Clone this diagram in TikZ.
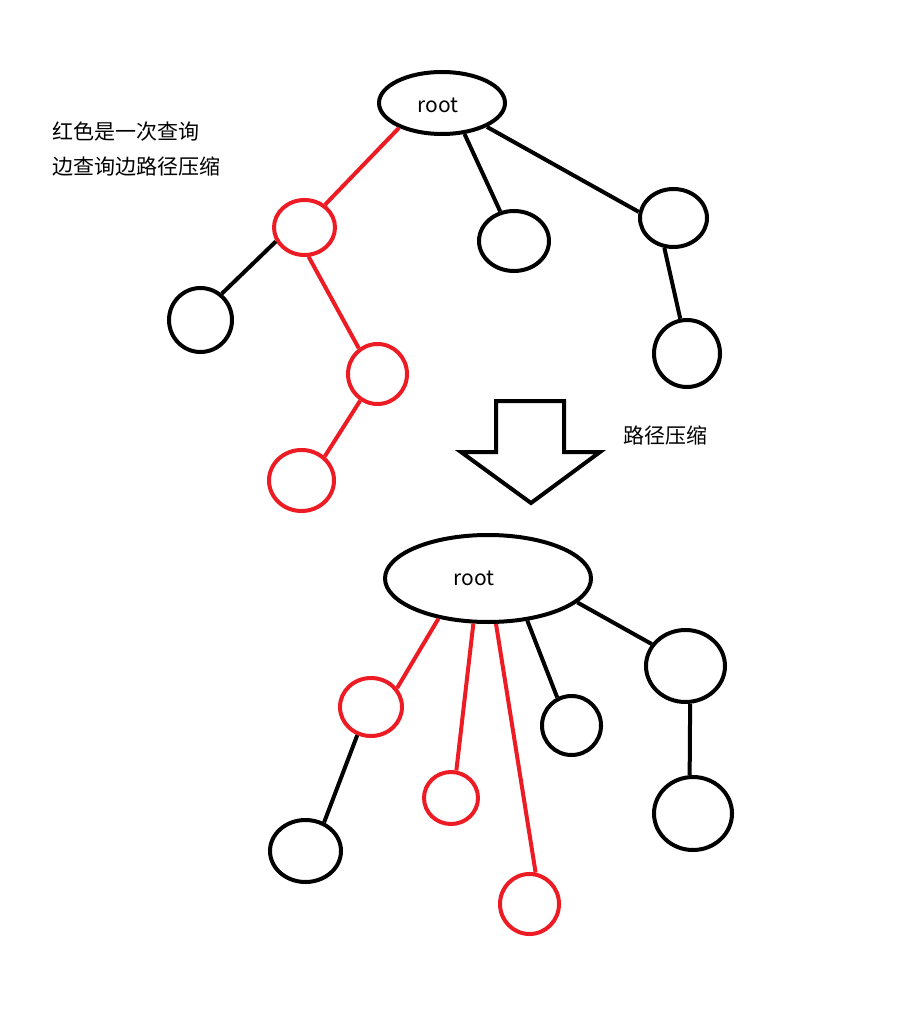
\documentclass[tikz,border=0pt]{standalone}
\usepackage{fontspec}
\usepackage{xcolor}
\usepackage{tikz}
\usetikzlibrary{shapes.geometric}
\newfontfamily\cjk{Noto Sans CJK SC}
\definecolor{paintred}{RGB}{237,28,36}

\begin{document}
\begin{tikzpicture}[x=0.75pt,y=-0.75pt,
		txt/.style={font=\cjk\fontsize{15.75}{18}\selectfont,inner sep=0pt}]
				\useasboundingbox (0,0) rectangle (897,1019);
				% before
				\begin{scope}[every node/.style={ellipse,draw,line width=3pt,inner sep=0pt}]
					\node[minimum width=94.5pt,minimum height=46.5pt,label={[txt,xshift=-3pt,yshift=-2pt]center:root}] (R) at (442,103) {};
					\node[paintred,minimum width=45.75pt,minimum height=41.25pt] (A) at (304.5,227.5) {};
					\node[minimum width=47.25pt,minimum height=48pt] (B) at (200.5,320) {};
					\node[paintred,minimum width=44.25pt,minimum height=45pt] (C) at (377.5,374) {};
					\node[paintred,minimum width=48.75pt,minimum height=45.75pt] (D) at (301.5,480.5) {};
					\node[minimum width=52.5pt,minimum height=45pt] (E) at (514,241) {};
					\node[minimum width=50.25pt,minimum height=43.5pt] (F) at (673.5,218) {};
					\node[minimum width=49.5pt,minimum height=50.25pt] (G) at (687,353.5) {};
				\end{scope}
				
				\begin{scope}[every edge/.style={draw,line width=3pt}]
					\path (R.210) edge[paintred] (A.48);
					\path (A.206) edge (B.51);
					\path (A.278) edge[paintred] (C.126);
					\path (C.237) edge[paintred] (D.46);
					\path (R.306) edge (E.115);
					\path (R.332) edge (F.170);
					\path (F.253) edge (G.101);
				\end{scope}
				
				\node[txt,anchor=west] (note1) at (52,132) {红色是一次查询};
				\node[txt,anchor=west] (note2) at (52,167) {边查询边路径压缩};
				
				% arrow
				\draw[line width=3pt,line join=miter] (496,401) -- (564,401) -- (564,452) -- (600,452)
					-- (531,503) -- (461,452) -- (496,452) -- cycle;
				\node[txt,anchor=west] (step) at (623,435) {路径压缩};
				
				% after
				\begin{scope}[every node/.style={ellipse,draw,line width=3pt,inner sep=0pt}]
					\node[minimum width=154.5pt,minimum height=65.25pt,label={[txt,xshift=-10.5pt]center:root}] (R2) at (488,578.5) {};
					\node[paintred,minimum width=46.5pt,minimum height=43.5pt] (A2) at (371,707) {};
					\node[minimum width=53.25pt,minimum height=46.5pt] (B2) at (305.5,851) {};
					\node[paintred,minimum width=40.5pt,minimum height=39pt] (C2) at (451,798) {};
					\node[paintred,minimum width=44.25pt,minimum height=45pt] (D2) at (529.5,904) {};
					\node[minimum width=44.25pt,minimum height=44.25pt] (E2) at (571.5,725.5) {};
					\node[minimum width=59.25pt,minimum height=54pt] (F2) at (685.5,666) {};
					\node[minimum width=58.5pt,minimum height=54.75pt] (G2) at (693,813.5) {};
				\end{scope}
				
				\begin{scope}[every edge/.style={draw,line width=3pt}]
					\path (R2.219) edge[paintred] (A2.36);
					\path (A2.244) edge (B2.57);
					\path (R2.252) edge[paintred] (C2.79);
					\path (R2.280) edge[paintred] (D2.79);
					\path (R2.313) edge (E2.117);
					\path (R2.345) edge (F2.147);
					\path (F2.277) edge (G2.95);
				\end{scope}
			\end{tikzpicture}
\end{document}
